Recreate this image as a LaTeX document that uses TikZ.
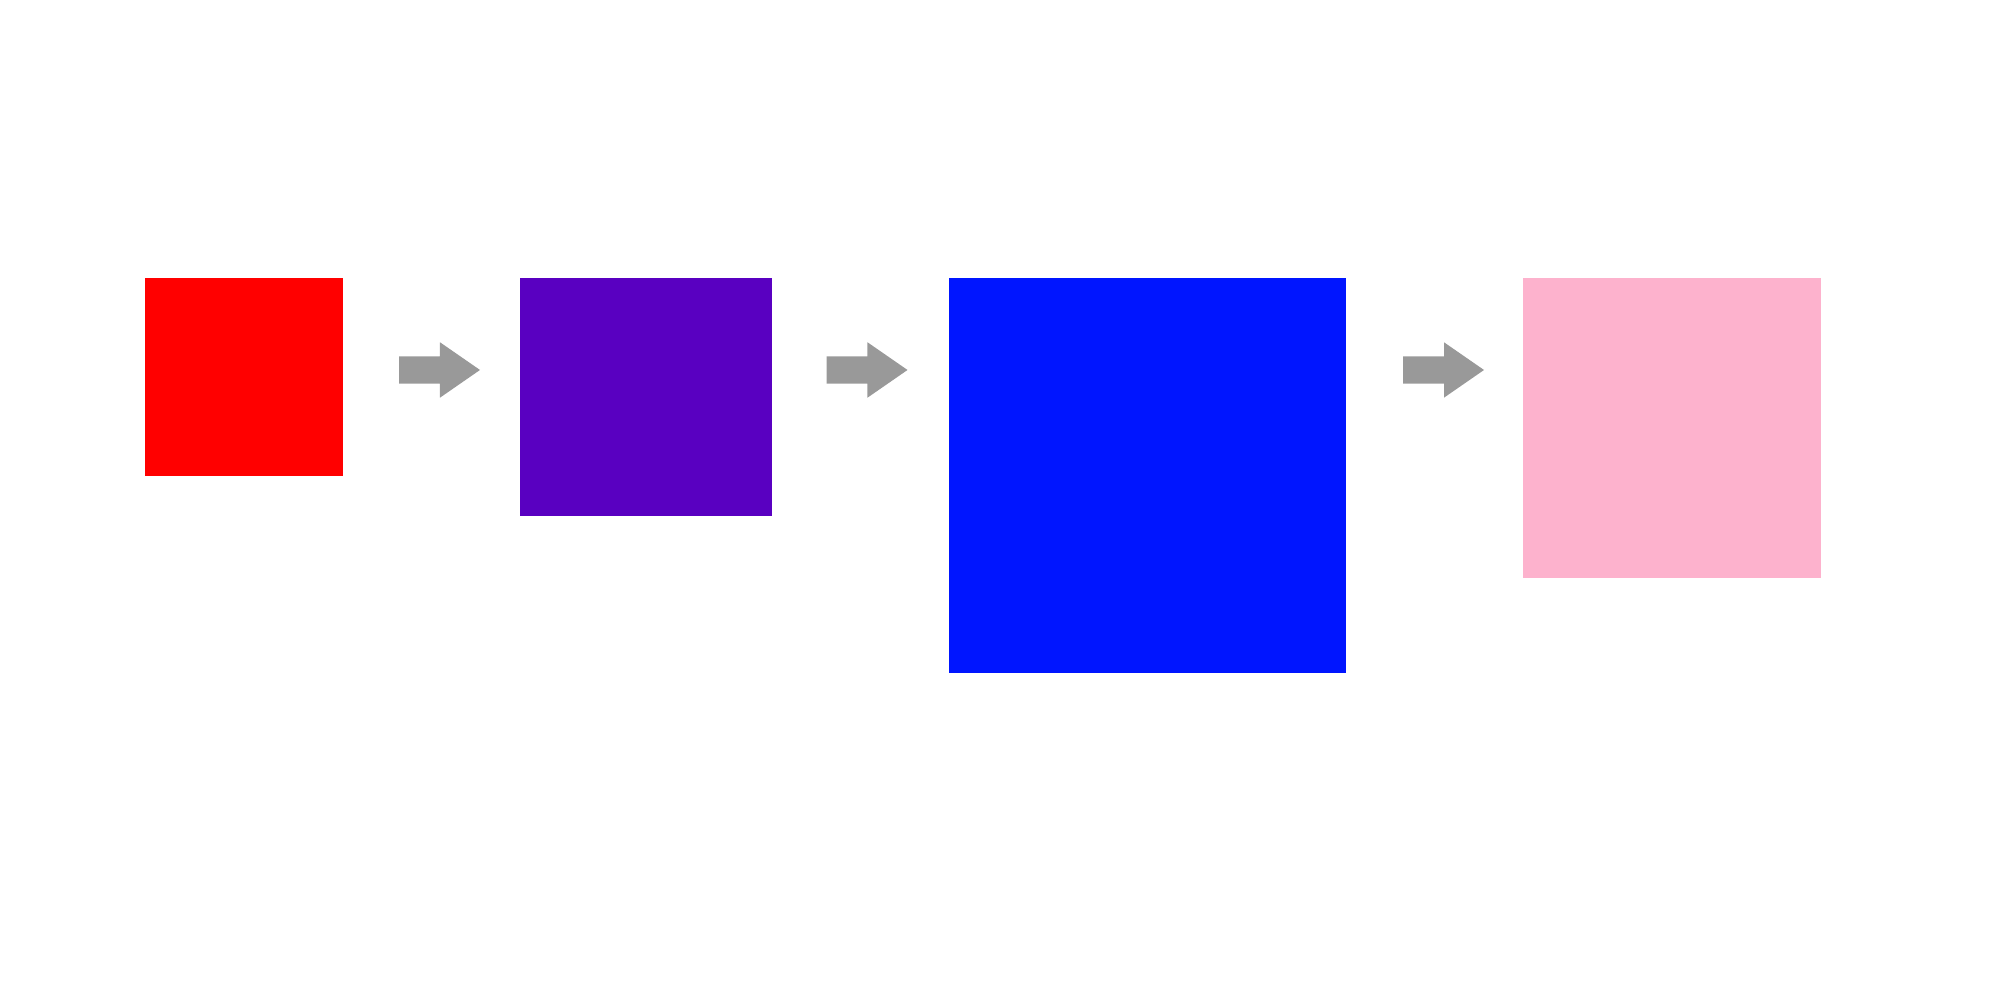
\documentclass[tikz,border=0pt]{standalone}
\usepackage{tikz}
\usetikzlibrary{shapes.arrows}

\definecolor{stepred}{RGB}{255,0,0}
\definecolor{steppurple}{RGB}{89,0,193}
\definecolor{stepblue}{RGB}{0,21,255}
\definecolor{steppink}{RGB}{253,178,205}
\definecolor{flowgrey}{RGB}{153,153,153}

\begin{document}
\begin{tikzpicture}[
    sq/.style={rectangle,inner sep=0pt,outer sep=0pt,anchor=north west},
    flow/.style={single arrow,fill=flowgrey,draw=none,inner sep=0.13cm,outer sep=0pt,
        single arrow head extend=0.14cm,single arrow tip angle=69.4,
        minimum height=0.81cm,anchor=tail}]
    \useasboundingbox (0,0) rectangle (20,10);

    % Draw boxes
    \node (red) [sq,fill=stepred,minimum width=1.98cm,minimum height=1.98cm] at (1.45,7.22) {};
    \node (purple) [sq,fill=steppurple,minimum width=2.52cm,minimum height=2.38cm] at (5.20,7.22) {};
    \node (blue) [sq,fill=stepblue,minimum width=3.97cm,minimum height=3.95cm] at (9.49,7.22) {};
    \node (pink) [sq,fill=steppink,minimum width=2.98cm,minimum height=3.00cm] at (15.23,7.22) {};

    % arrows between boxes
    \node (toPurple) [flow] at (3.99,6.30) {};
    \node (toBlue) [flow] at (8.265,6.30) {};
    \node (toPink) [flow] at (14.03,6.30) {};
\end{tikzpicture}
\end{document}
